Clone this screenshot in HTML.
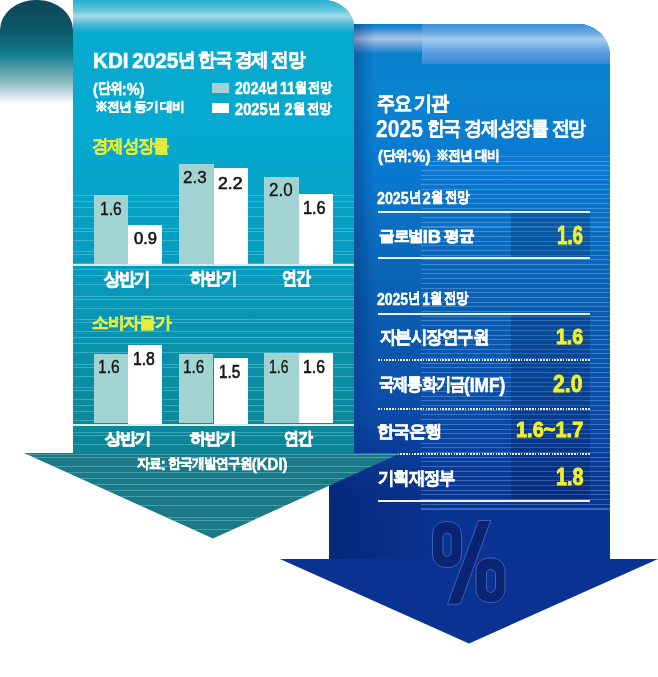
<!DOCTYPE html>
<html><head><meta charset="utf-8">
<style>
html,body{margin:0;padding:0;background:#fff;}
body{width:658px;height:677px;position:relative;overflow:hidden;font-family:"Liberation Sans",sans-serif;}
.a{position:absolute;}
.x{position:absolute;white-space:nowrap;line-height:1;transform-origin:0 0;}
.h{letter-spacing:-0.07em}.l{font-size:1.17em;vertical-align:-0.1em}
</style></head><body>
<!-- left curl -->
<div class="a" style="left:0;top:0;width:73px;height:110px;border-radius:36px 36px 0 0/30px 30px 0 0;background:linear-gradient(#0c4656 0%,#0b5a6a 30%,#117f8e 50%,#8fbcc2 75%,#ffffff 95%);"></div>

<!-- right panel (blue) -->
<div class="a" style="left:329px;top:24px;width:281px;height:536px;border-radius:0 32px 0 0;background:linear-gradient(#0a7cca 0%,#0a84d0 12%,#0a78d0 28%,#0a64b4 47%,#0a4eaa 70%,#0a3492 88%,#0a3494 100%);overflow:hidden;">
  <div class="a" style="left:0;top:0;width:281px;height:30px;background:linear-gradient(#0a80cc 0%,#2a8ad0 15%,#7aaee0 35%,#a8c6e8 50%,#6aa4dc 70%,rgba(10,128,208,0) 100%);"></div>
  <div class="a" style="left:25px;top:0;width:20px;height:440px;background:linear-gradient(90deg,rgba(0,20,80,0.3),rgba(0,20,80,0));-webkit-mask-image:linear-gradient(#000 70%,transparent);"></div>
  <div class="a" style="left:0;top:400px;width:110px;height:136px;background:linear-gradient(90deg,rgba(0,10,60,0.3),rgba(0,10,60,0));-webkit-mask-image:linear-gradient(transparent,#000 50%);"></div>
  <div class="a" style="left:93px;top:0;width:188px;height:40px;background:linear-gradient(#3a90d8 0%,#6aa8e0 22%,#a8ccf0 38%,#7ab4e8 55%,#5aa0e0 70%,#3a88d8 100%);"></div>
  <div class="a" style="left:92px;top:132px;width:189px;height:357px;background:repeating-linear-gradient(180deg,rgba(150,200,255,0.35) 0 1px,rgba(0,0,0,0) 1px 4.7px);"></div>
</div>
<!-- right arrowhead -->
<svg class="a" style="left:0;top:0" width="658" height="677"><polygon points="280,559 658,559 469,643.5" fill="#0a3292"/></svg>
<!-- value boxes -->
<div class="a" style="left:511px;top:213px;width:79px;height:44px;background:rgba(0,20,70,0.22);"></div>
<div class="a" style="left:511px;top:315px;width:79px;height:184px;background:rgba(0,20,70,0.22);"></div>
<!-- right lines -->
<div class="a" style="left:378px;top:211px;width:212px;height:2px;background:#e8f0fa;"></div>
<div class="a" style="left:378px;top:257px;width:212px;height:2px;background:#e8f0fa;"></div>
<div class="a" style="left:378px;top:313px;width:212px;height:2px;background:#e8f0fa;"></div>
<div class="a" style="left:378px;top:359px;width:212px;height:2px;background:repeating-linear-gradient(90deg,#e8f0fa 0 1.6px,transparent 1.6px 2.8px);"></div>
<div class="a" style="left:378px;top:408px;width:212px;height:2px;background:repeating-linear-gradient(90deg,#e8f0fa 0 1.6px,transparent 1.6px 2.8px);"></div>
<div class="a" style="left:378px;top:453px;width:212px;height:2px;background:repeating-linear-gradient(90deg,#e8f0fa 0 1.6px,transparent 1.6px 2.8px);"></div>
<div class="a" style="left:378px;top:500px;width:212px;height:2px;background:#e8f0fa;"></div>
<!-- percent glyph -->
<svg class="a" style="left:0;top:0" width="658" height="677">
 <g fill="#0a2372" stroke="#4a6cc0" stroke-width="0.8">
  <path fill-rule="evenodd" d="M447,521.5 C437,521.5 432.5,527 432.5,536 L432.5,553 C432.5,562 437,567.5 447,567.5 C457,567.5 461.5,562 461.5,553 L461.5,536 C461.5,527 457,521.5 447,521.5 Z M447,533 C444,533 443,535 443,537 L443,552 C443,554.5 444,556.5 447,556.5 C450,556.5 451,554.5 451,552 L451,537 C451,535 450,533 447,533 Z"/>
  <path fill-rule="evenodd" d="M490.5,558 C480.5,558 476,563.5 476,572.5 L476,588 C476,597 480.5,602.5 490.5,602.5 C500.5,602.5 505,597 505,588 L505,572.5 C505,563.5 500.5,558 490.5,558 Z M490.5,569.5 C487.5,569.5 486.5,571.5 486.5,573.5 L486.5,587 C486.5,589.5 487.5,592.5 490.5,592.5 C493.5,592.5 495.5,589.5 495.5,587 L495.5,573.5 C495.5,571.5 493.5,569.5 490.5,569.5 Z"/>
  <polygon points="478.5,520.5 490.7,520.5 460.3,604.2 447.4,604.2"/>
 </g>
</svg>

<!-- left panel (teal) -->
<div class="a" style="left:73px;top:0;width:281px;height:453px;border-radius:0 31px 0 0/0 27px 0 0;background:linear-gradient(#0aaad0 0%,#06a9cf 30%,#059dc0 55%,#0898b8 66%,#0a8a9c 90%,#0c8494 100%);overflow:hidden;">
  <div class="a" style="left:0;top:0;width:281px;height:32px;background:linear-gradient(#22b0d0 0%,#6cc8dc 35%,#a6dbe7 50%,#4cbad6 75%,#10a9c9 100%);"></div>
  <div class="a" style="left:0;top:195px;width:281px;height:259px;background:repeating-linear-gradient(180deg,transparent 0px,rgba(120,215,230,0.42) 0px,rgba(120,215,230,0.42) 1px,transparent 1px,transparent 6px,rgba(120,215,230,0.42) 6px,rgba(120,215,230,0.42) 7px,transparent 7px,transparent 12px,rgba(120,215,230,0.42) 12px,rgba(120,215,230,0.42) 13px,transparent 13px,transparent 21px,rgba(120,215,230,0.42) 21px,rgba(120,215,230,0.42) 22px,transparent 22px,transparent 33px,rgba(120,215,230,0.42) 33px,rgba(120,215,230,0.42) 34px,transparent 34px,transparent 36px,rgba(120,215,230,0.42) 36px,rgba(120,215,230,0.42) 37px,transparent 37px,transparent 45px,rgba(120,215,230,0.42) 45px,rgba(120,215,230,0.42) 46px,transparent 46px,transparent 56px,rgba(120,215,230,0.42) 56px,rgba(120,215,230,0.42) 57px,transparent 57px,transparent 59px,rgba(120,215,230,0.42) 59px,rgba(120,215,230,0.42) 60px,transparent 60px,transparent 68px);"></div>
</div>
<div class="a" style="left:24px;top:453px;width:377px;height:86px;clip-path:polygon(0 0,100% 0,189px 85.5px);background:repeating-linear-gradient(180deg,transparent 0px,rgba(120,215,230,0.42) 0px,rgba(120,215,230,0.42) 1px,transparent 1px,transparent 6px,rgba(120,215,230,0.42) 6px,rgba(120,215,230,0.42) 7px,transparent 7px,transparent 12px,rgba(120,215,230,0.42) 12px,rgba(120,215,230,0.42) 13px,transparent 13px,transparent 21px,rgba(120,215,230,0.42) 21px,rgba(120,215,230,0.42) 22px,transparent 22px,transparent 33px,rgba(120,215,230,0.42) 33px,rgba(120,215,230,0.42) 34px,transparent 34px,transparent 36px,rgba(120,215,230,0.42) 36px,rgba(120,215,230,0.42) 37px,transparent 37px,transparent 45px,rgba(120,215,230,0.42) 45px,rgba(120,215,230,0.42) 46px,transparent 46px,transparent 56px,rgba(120,215,230,0.42) 56px,rgba(120,215,230,0.42) 57px,transparent 57px,transparent 59px,rgba(120,215,230,0.42) 59px,rgba(120,215,230,0.42) 60px,transparent 60px,transparent 68px) ,#1b7887;background-position:0 -55px;"></div>

<!-- legend boxes -->
<div class="a" style="left:212px;top:82.5px;width:17px;height:10px;background:#a2d3d2;"></div>
<div class="a" style="left:212px;top:102.7px;width:17px;height:10px;background:#fff;"></div>

<!-- chart 1 bars -->
<div class="a" style="left:94px;top:194.5px;width:34px;height:69.5px;background:#a0d3d2;"></div>
<div class="a" style="left:128px;top:224.5px;width:34px;height:39.5px;background:#fff;"></div>
<div class="a" style="left:179px;top:163.5px;width:34.5px;height:100.5px;background:#a0d3d2;"></div>
<div class="a" style="left:213.5px;top:168px;width:34.5px;height:96px;background:#fff;"></div>
<div class="a" style="left:264.3px;top:176.6px;width:34.5px;height:87.4px;background:#a0d3d2;"></div>
<div class="a" style="left:298.8px;top:193.8px;width:34.2px;height:70.2px;background:#fff;"></div>
<div class="a" style="left:73px;top:264px;width:281px;height:2px;background:#d2eef2;"></div>

<!-- chart 2 bars -->
<div class="a" style="left:94px;top:353.9px;width:34px;height:69.6px;background:#a0d3d2;"></div>
<div class="a" style="left:128px;top:345px;width:34px;height:78.5px;background:#fff;"></div>
<div class="a" style="left:179.4px;top:353.9px;width:34.1px;height:69.6px;background:#a0d3d2;"></div>
<div class="a" style="left:213.5px;top:357.5px;width:34.3px;height:66px;background:#fff;"></div>
<div class="a" style="left:264.3px;top:353.2px;width:34.5px;height:70.3px;background:#a0d3d2;"></div>
<div class="a" style="left:298.8px;top:353.2px;width:34.2px;height:70.3px;background:#fff;"></div>
<div class="a" style="left:73px;top:423.5px;width:281px;height:2px;background:#d2eef2;"></div>

<div class="x" style="left:93.07px;top:49.75px;font-size:19.0px;font-weight:700;color:#ffffff;-webkit-text-stroke:0.6px currentColor;transform:scaleX(0.9288)"><span class="l">KDI</span><span class="h"> </span><span class="l">2025</span><span class="h">년 한국 경제 전망</span></div>
<div class="x" style="left:92.71px;top:80.96px;font-size:14.5px;font-weight:700;color:#ffffff;-webkit-text-stroke:0.5px currentColor;transform:scaleX(0.8577)"><span class="l">(</span><span class="h">단위</span><span class="l">:%)</span></div>
<div class="x" style="left:95.08px;top:100.04px;font-size:13.0px;font-weight:700;color:#ffffff;-webkit-text-stroke:0.5px currentColor;transform:scaleX(0.9939)"><span class="h">※전년 동기 대비</span></div>
<div class="x" style="left:234.59px;top:79.95px;font-size:14.0px;font-weight:700;color:#ffffff;-webkit-text-stroke:0.5px currentColor;transform:scaleX(0.8589)"><span class="l">2024</span><span class="h">년 </span><span class="l">11</span><span class="h">월 전망</span></div>
<div class="x" style="left:234.59px;top:101.14px;font-size:14.0px;font-weight:700;color:#ffffff;-webkit-text-stroke:0.5px currentColor;transform:scaleX(0.8953)"><span class="l">2025</span><span class="h">년 &nbsp;</span><span class="l">2</span><span class="h">월 전망</span></div>
<div class="x" style="left:92.46px;top:137.0px;font-size:18.0px;font-weight:700;color:#e6ee3c;-webkit-text-stroke:0.25px currentColor;transform:scaleX(0.9173)"><span class="h">경제성장률</span></div>
<div class="x" style="left:99.54px;top:201.06px;font-size:17.5px;font-weight:400;color:#141414;-webkit-text-stroke:0.35px currentColor;transform:scaleX(0.8923)">1.6</div>
<div class="x" style="left:134.0px;top:229.84px;font-size:16.5px;font-weight:400;color:#141414;-webkit-text-stroke:0.6px currentColor;transform:scaleX(1.0048)">0.9</div>
<div class="x" style="left:182.82px;top:170.29px;font-size:16.0px;font-weight:400;color:#141414;-webkit-text-stroke:0.35px currentColor;transform:scaleX(1.0628)">2.3</div>
<div class="x" style="left:217.96px;top:176.07px;font-size:16.0px;font-weight:400;color:#141414;-webkit-text-stroke:0.6px currentColor;transform:scaleX(1.102)">2.2</div>
<div class="x" style="left:269.08px;top:180.81px;font-size:18.5px;font-weight:400;color:#141414;-webkit-text-stroke:0.35px currentColor;transform:scaleX(0.9202)">2.0</div>
<div class="x" style="left:302.71px;top:198.85px;font-size:18.0px;font-weight:400;color:#141414;-webkit-text-stroke:0.6px currentColor;transform:scaleX(0.9054)">1.6</div>
<div class="x" style="left:104.0px;top:269.8px;font-size:18.0px;font-weight:700;color:#ffffff;-webkit-text-stroke:0.9px currentColor;transform:scaleX(0.9089)"><span class="h">상반기</span></div>
<div class="x" style="left:189.57px;top:270.2px;font-size:17.0px;font-weight:700;color:#ffffff;-webkit-text-stroke:0.9px currentColor;transform:scaleX(0.9704)"><span class="h">하반기</span></div>
<div class="x" style="left:282.4px;top:270.22px;font-size:17.5px;font-weight:700;color:#ffffff;-webkit-text-stroke:0.9px currentColor;transform:scaleX(0.8258)"><span class="h">연간</span></div>
<div class="x" style="left:91.79px;top:314.83px;font-size:16.0px;font-weight:700;color:#e6ee3c;-webkit-text-stroke:0.6px currentColor;transform:scaleX(1.0503)"><span class="h">소비자물가</span></div>
<div class="x" style="left:97.79px;top:358.26px;font-size:18.0px;font-weight:400;color:#141414;-webkit-text-stroke:0.35px currentColor;transform:scaleX(0.863)">1.6</div>
<div class="x" style="left:133.14px;top:351.28px;font-size:17.5px;font-weight:400;color:#141414;-webkit-text-stroke:0.6px currentColor;transform:scaleX(0.8984)">1.8</div>
<div class="x" style="left:182.95px;top:358.26px;font-size:18.0px;font-weight:400;color:#141414;-webkit-text-stroke:0.35px currentColor;transform:scaleX(0.855)">1.6</div>
<div class="x" style="left:218.97px;top:364.06px;font-size:17.5px;font-weight:400;color:#141414;-webkit-text-stroke:0.6px currentColor;transform:scaleX(0.8732)">1.5</div>
<div class="x" style="left:269.25px;top:358.01px;font-size:18.5px;font-weight:400;color:#141414;-webkit-text-stroke:0.35px currentColor;transform:scaleX(0.7544)">1.6</div>
<div class="x" style="left:302.78px;top:358.01px;font-size:18.5px;font-weight:400;color:#141414;-webkit-text-stroke:0.6px currentColor;transform:scaleX(0.8545)">1.6</div>
<div class="x" style="left:105.0px;top:430.77px;font-size:16.0px;font-weight:700;color:#ffffff;-webkit-text-stroke:0.9px currentColor;transform:scaleX(1.0206)"><span class="h">상반기</span></div>
<div class="x" style="left:190.02px;top:430.77px;font-size:16.0px;font-weight:700;color:#ffffff;-webkit-text-stroke:0.9px currentColor;transform:scaleX(1.0202)"><span class="h">하반기</span></div>
<div class="x" style="left:283.76px;top:429.81px;font-size:16.5px;font-weight:700;color:#ffffff;-webkit-text-stroke:0.9px currentColor;transform:scaleX(0.8745)"><span class="h">연간</span></div>
<div class="x" style="left:137.2px;top:456.03px;font-size:14.0px;font-weight:700;color:#ffffff;-webkit-text-stroke:0.5px currentColor;transform:scaleX(0.9144)"><span class="h">자료</span><span class="l">:</span><span class="h"> 한국개발연구원</span><span class="l">(KDI)</span></div>
<div class="x" style="left:377.49px;top:93.35px;font-size:20.0px;font-weight:700;color:#ffffff;-webkit-text-stroke:0.6px currentColor;transform:scaleX(0.9052)"><span class="h">주요 기관</span></div>
<div class="x" style="left:376.33px;top:118.27px;font-size:20.0px;font-weight:700;color:#ffffff;-webkit-text-stroke:0.25px currentColor;transform:scaleX(0.9017)"><span class="l">2025</span><span class="h"> 한국 경제성장률 전망</span></div>
<div class="x" style="left:377.83px;top:147.91px;font-size:14.0px;font-weight:700;color:#ffffff;-webkit-text-stroke:0.5px currentColor;transform:scaleX(0.9222)"><span class="l">(</span><span class="h">단위</span><span class="l">:%)</span><span class="h"> &nbsp;※전년 대비</span></div>
<div class="x" style="left:377.4px;top:190.37px;font-size:14.5px;font-weight:700;color:#ffffff;-webkit-text-stroke:0.5px currentColor;transform:scaleX(0.836)"><span class="l">2025</span><span class="h">년 </span><span class="l">2</span><span class="h">월 전망</span></div>
<div class="x" style="left:379.23px;top:228.04px;font-size:15.0px;font-weight:700;color:#ffffff;-webkit-text-stroke:0.6px currentColor;transform:scaleX(1.0455)"><span class="h">글로벌</span><span class="l">IB</span><span class="h"> 평균</span></div>
<div class="x" style="left:557.09px;top:222.72px;font-size:25.0px;font-weight:700;color:#f2f02a;-webkit-text-stroke:0.9px currentColor;transform:scaleX(0.7467)">1.6</div>
<div class="x" style="left:377.4px;top:291.42px;font-size:14.5px;font-weight:700;color:#ffffff;-webkit-text-stroke:0.5px currentColor;transform:scaleX(0.8256)"><span class="l">2025</span><span class="h">년 </span><span class="l">1</span><span class="h">월 전망</span></div>
<div class="x" style="left:380.0px;top:328.98px;font-size:17.5px;font-weight:700;color:#ffffff;-webkit-text-stroke:0.6px currentColor;transform:scaleX(0.9198)"><span class="h">자본시장연구원</span></div>
<div class="x" style="left:556.41px;top:326.32px;font-size:22.0px;font-weight:700;color:#f2f02a;-webkit-text-stroke:0.9px currentColor;transform:scaleX(0.8852)">1.6</div>
<div class="x" style="left:379.15px;top:375.0px;font-size:17.5px;font-weight:700;color:#ffffff;-webkit-text-stroke:0.6px currentColor;transform:scaleX(0.8449)"><span class="h">국제통화기금</span><span class="l">(IMF)</span></div>
<div class="x" style="left:552.61px;top:371.93px;font-size:24.5px;font-weight:700;color:#f2f02a;-webkit-text-stroke:0.9px currentColor;transform:scaleX(0.8636)">2.0</div>
<div class="x" style="left:376.98px;top:422.6px;font-size:17.0px;font-weight:700;color:#ffffff;-webkit-text-stroke:0.6px currentColor;transform:scaleX(1.0071)"><span class="h">한국은행</span></div>
<div class="x" style="left:516.37px;top:418.9px;font-size:22.5px;font-weight:700;color:#f2f02a;-webkit-text-stroke:0.9px currentColor;transform:scaleX(0.889)">1.6~1.7</div>
<div class="x" style="left:378.0px;top:470.0px;font-size:17.5px;font-weight:700;color:#ffffff;-webkit-text-stroke:0.6px currentColor;transform:scaleX(0.9137)"><span class="h">기획재정부</span></div>
<div class="x" style="left:556.23px;top:465.13px;font-size:24.5px;font-weight:700;color:#f2f02a;-webkit-text-stroke:0.9px currentColor;transform:scaleX(0.8074)">1.8</div>
</body></html>
